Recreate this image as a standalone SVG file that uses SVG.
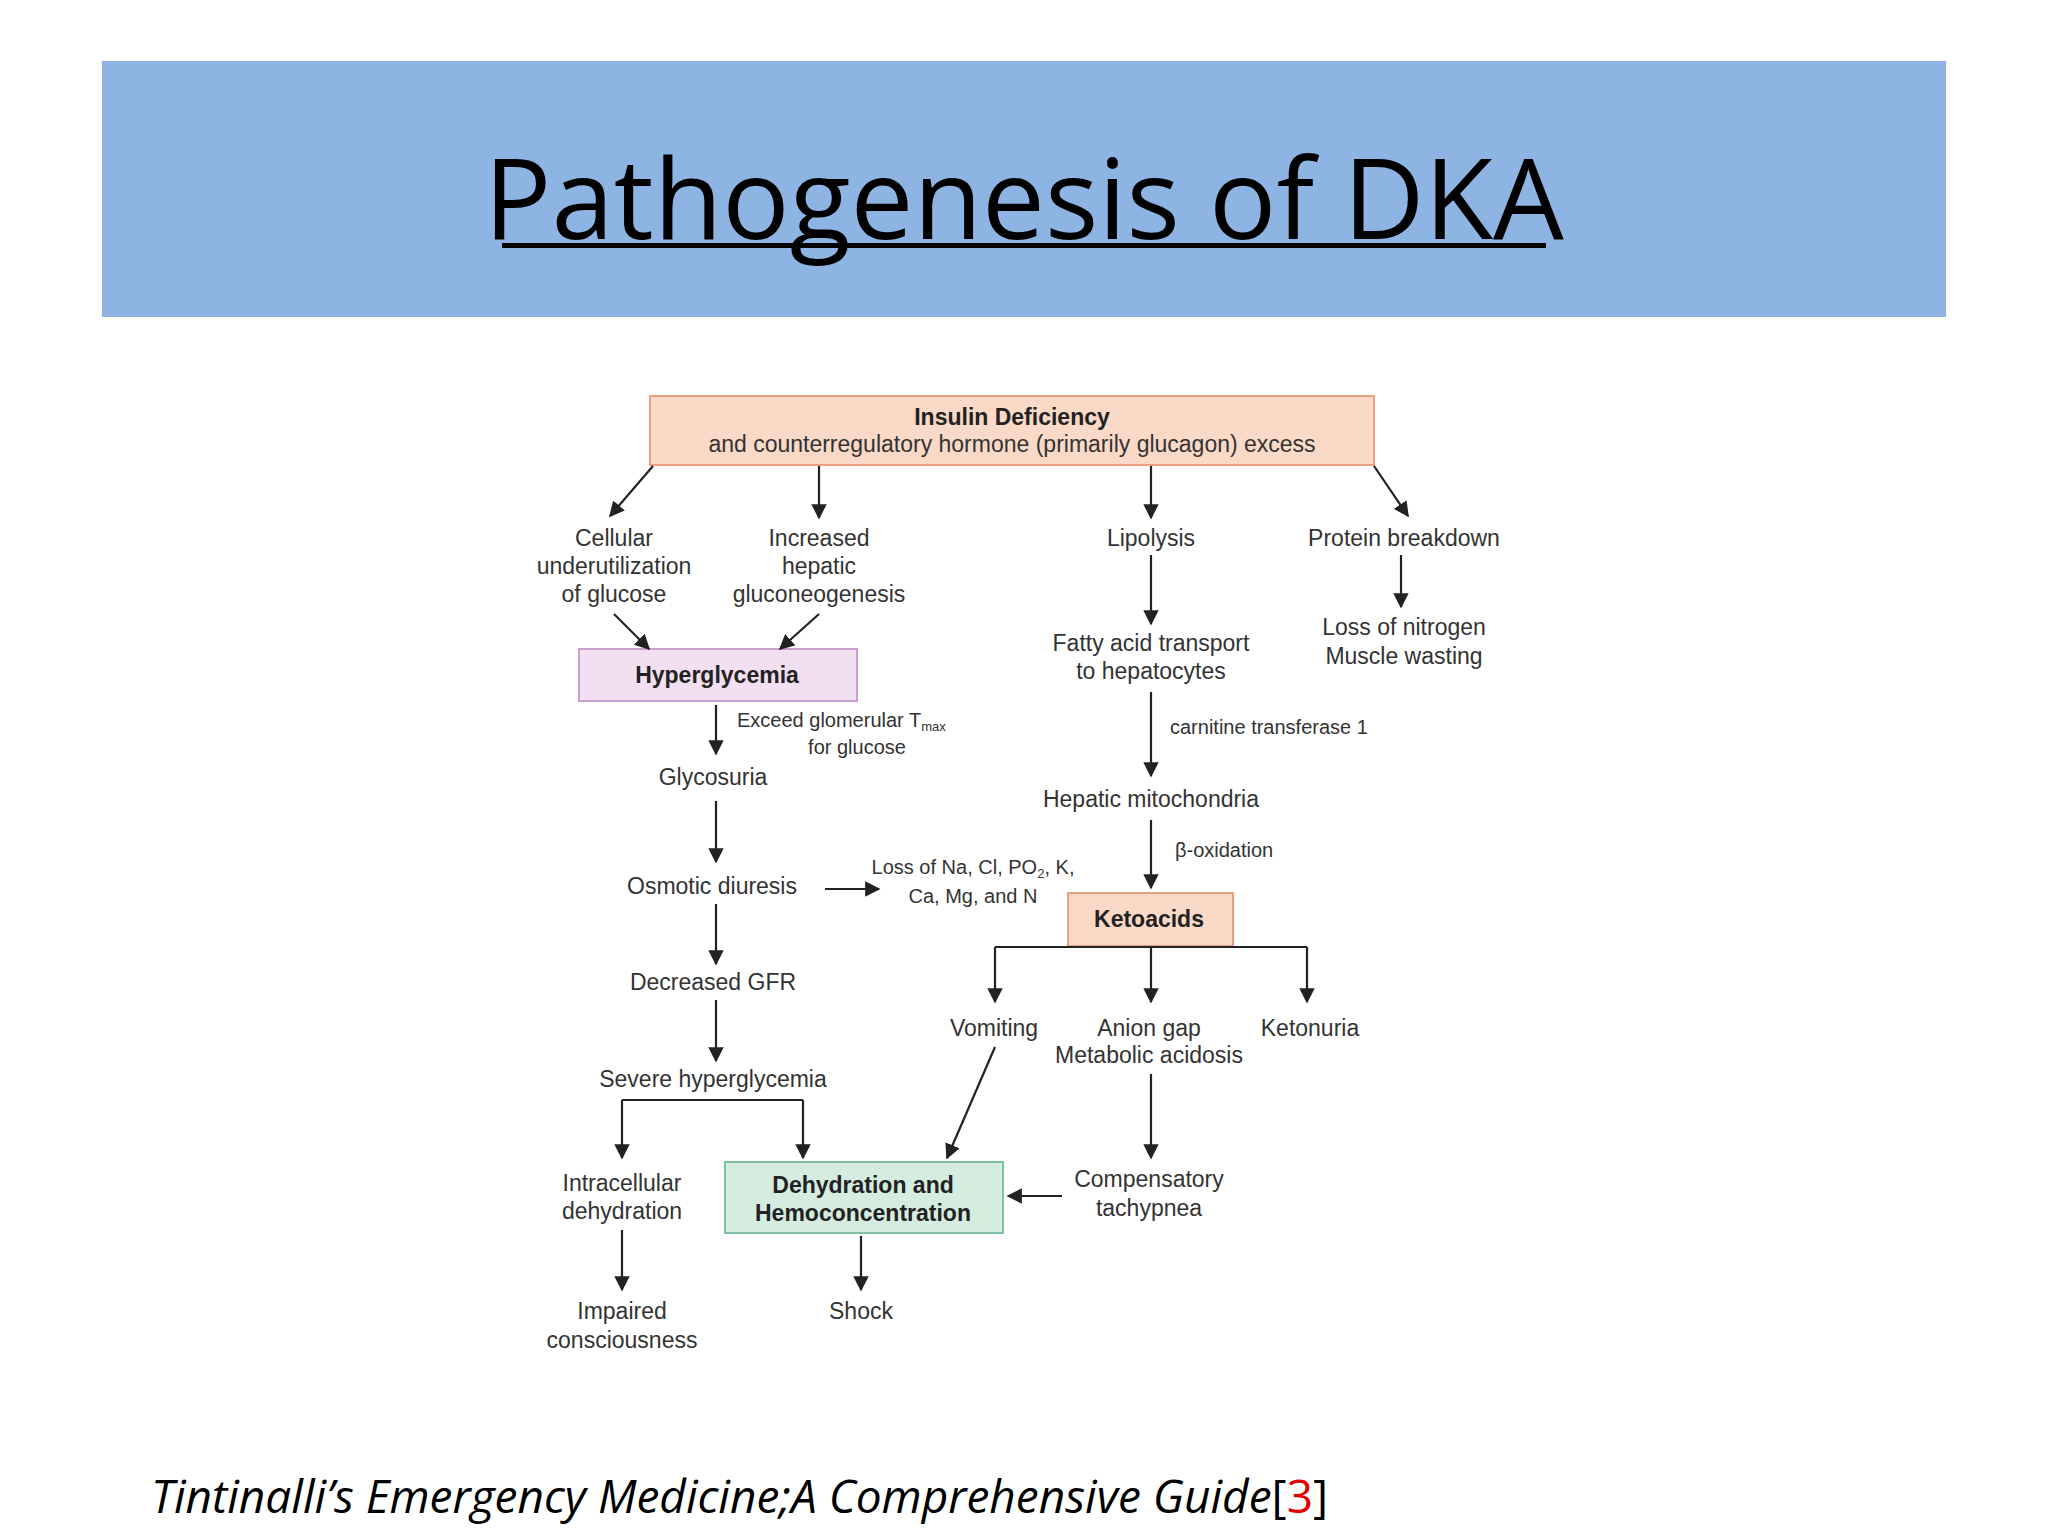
<svg xmlns="http://www.w3.org/2000/svg" width="2048" height="1536" viewBox="0 0 2048 1536">
<style>
text{font-family:"Liberation Sans",Arial,sans-serif;font-size:23px;fill:#333;text-anchor:middle;dominant-baseline:central}
.b{font-weight:bold;fill:#222}
.s{font-size:20px}
.l{text-anchor:start}
.c line,.c polyline{stroke:#222;stroke-width:2.2;fill:none}
</style>
<defs><marker id="a" viewBox="0 0 10 10" refX="9" refY="5" markerWidth="7" markerHeight="7" orient="auto"><path d="M0,0 L10,5 L0,10 z" fill="#222"/></marker></defs>
<rect width="2048" height="1536" fill="#fff"/>
<g id="header"><rect x="102" y="61" width="1844" height="256" fill="#8eb4e3"/>
<text x="1024" y="195" style="font-family:'Open Sans','Liberation Sans',sans-serif;font-size:112px;fill:#000">Pathogenesis of DKA</text>
<rect x="502" y="243" width="1044" height="5" fill="#000"/></g>
<g id="insulin"><rect x="650" y="396" width="724" height="69" fill="#fbd9c7" stroke="#e8a080" stroke-width="2"/>
<text class="b" x="1012" y="417">Insulin Deficiency</text><text x="1012" y="444">and counterregulatory hormone (primarily glucagon) excess</text></g>
<g id="cellular"><text x="614" y="538">Cellular</text><text x="614" y="566">underutilization</text><text x="614" y="594">of glucose</text></g>
<g id="hepatic"><text x="819" y="538">Increased</text><text x="819" y="566">hepatic</text><text x="819" y="594">gluconeogenesis</text></g>
<g id="lipolysis"><text x="1151" y="538">Lipolysis</text></g>
<g id="protein"><text x="1404" y="538">Protein breakdown</text></g>
<g id="nitrogen"><text x="1404" y="627">Loss of nitrogen</text><text x="1404" y="656">Muscle wasting</text></g>
<g id="fatty"><text x="1151" y="643">Fatty acid transport</text><text x="1151" y="671">to hepatocytes</text></g>
<g id="hyperglycemia"><rect x="579" y="649" width="278" height="52" fill="#f2dff2" stroke="#c9a0d0" stroke-width="2"/><text class="b" x="717" y="675">Hyperglycemia</text></g>
<g id="exceed"><text class="s l" x="737" y="720">Exceed glomerular T<tspan font-size="13" dy="6">max</tspan></text><text class="s" x="857" y="747">for glucose</text></g>
<g id="glycosuria"><text x="713" y="777">Glycosuria</text></g>
<g id="osmotic"><text x="712" y="886">Osmotic diuresis</text></g>
<g id="loss"><text class="s" x="973" y="867">Loss of Na, Cl, PO<tspan font-size="13" dy="6">2</tspan><tspan dy="-6">, K,</tspan></text><text class="s" x="973" y="896">Ca, Mg, and N</text></g>
<g id="gfr"><text x="713" y="982">Decreased GFR</text></g>
<g id="severe"><text x="713" y="1079">Severe hyperglycemia</text></g>
<g id="intracellular"><text x="622" y="1183">Intracellular</text><text x="622" y="1211">dehydration</text></g>
<g id="impaired"><text x="622" y="1311">Impaired</text><text x="622" y="1340">consciousness</text></g>
<g id="dehydration"><rect x="725" y="1162" width="278" height="71" fill="#d5ede0" stroke="#7fc0a0" stroke-width="2"/><text class="b" x="863" y="1185">Dehydration and</text><text class="b" x="863" y="1213">Hemoconcentration</text></g>
<g id="shock"><text x="861" y="1311">Shock</text></g>
<g id="carnitine"><text class="s l" x="1170" y="727">carnitine transferase 1</text></g>
<g id="mito"><text x="1151" y="799">Hepatic mitochondria</text></g>
<g id="beta"><text class="s l" x="1175" y="850">β-oxidation</text></g>
<g id="ketoacids"><rect x="1068" y="893" width="165" height="53" fill="#fbd9c7" stroke="#e8a080" stroke-width="2"/><text class="b" x="1149" y="919">Ketoacids</text></g>
<g id="vomiting"><text x="994" y="1028">Vomiting</text></g>
<g id="anion"><text x="1149" y="1028">Anion gap</text><text x="1149" y="1055">Metabolic acidosis</text></g>
<g id="ketonuria"><text x="1310" y="1028">Ketonuria</text></g>
<g id="compensatory"><text x="1149" y="1179">Compensatory</text><text x="1149" y="1208">tachypnea</text></g>
<g id="connectors" class="c">
<line x1="653" y1="466" x2="610" y2="516" marker-end="url(#a)"/>
<line x1="819" y1="466" x2="819" y2="518" marker-end="url(#a)"/>
<line x1="1151" y1="466" x2="1151" y2="518" marker-end="url(#a)"/>
<line x1="1374" y1="466" x2="1408" y2="516" marker-end="url(#a)"/>
<line x1="614" y1="614" x2="649" y2="649" marker-end="url(#a)"/>
<line x1="819" y1="614" x2="780" y2="649" marker-end="url(#a)"/>
<line x1="1401" y1="555" x2="1401" y2="607" marker-end="url(#a)"/>
<line x1="1151" y1="555" x2="1151" y2="624" marker-end="url(#a)"/>
<line x1="716" y1="705" x2="716" y2="754" marker-end="url(#a)"/>
<line x1="716" y1="801" x2="716" y2="862" marker-end="url(#a)"/>
<line x1="825" y1="889" x2="879" y2="889" marker-end="url(#a)"/>
<line x1="716" y1="904" x2="716" y2="964" marker-end="url(#a)"/>
<line x1="716" y1="1000" x2="716" y2="1061" marker-end="url(#a)"/>
<polyline points="622,1158 622,1100 803,1100 803,1158" style="display:none"/>
<line x1="622" y1="1100" x2="803" y2="1100"/>
<line x1="622" y1="1100" x2="622" y2="1158" marker-end="url(#a)"/>
<line x1="803" y1="1100" x2="803" y2="1158" marker-end="url(#a)"/>
<line x1="622" y1="1230" x2="622" y2="1290" marker-end="url(#a)"/>
<line x1="861" y1="1236" x2="861" y2="1290" marker-end="url(#a)"/>
<line x1="1151" y1="692" x2="1151" y2="776" marker-end="url(#a)"/>
<line x1="1151" y1="820" x2="1151" y2="888" marker-end="url(#a)"/>
<line x1="995" y1="947" x2="1307" y2="947"/>
<line x1="995" y1="947" x2="995" y2="1002" marker-end="url(#a)"/>
<line x1="1151" y1="947" x2="1151" y2="1002" marker-end="url(#a)"/>
<line x1="1307" y1="947" x2="1307" y2="1002" marker-end="url(#a)"/>
<line x1="995" y1="1047" x2="947" y2="1158" marker-end="url(#a)"/>
<line x1="1151" y1="1074" x2="1151" y2="1158" marker-end="url(#a)"/>
<line x1="1062" y1="1196" x2="1008" y2="1196" marker-end="url(#a)"/>
</g>
<g id="citation"><text x="151" y="1495" style="text-anchor:start;font-family:'Open Sans','Liberation Sans',sans-serif;font-style:italic;font-size:46px;fill:#000">Tintinalli’s Emergency Medicine;A Comprehensive Guide<tspan style="font-style:normal">[</tspan><tspan style="font-style:normal;fill:#e00000">3</tspan><tspan style="font-style:normal">]</tspan></text></g>
</svg>
